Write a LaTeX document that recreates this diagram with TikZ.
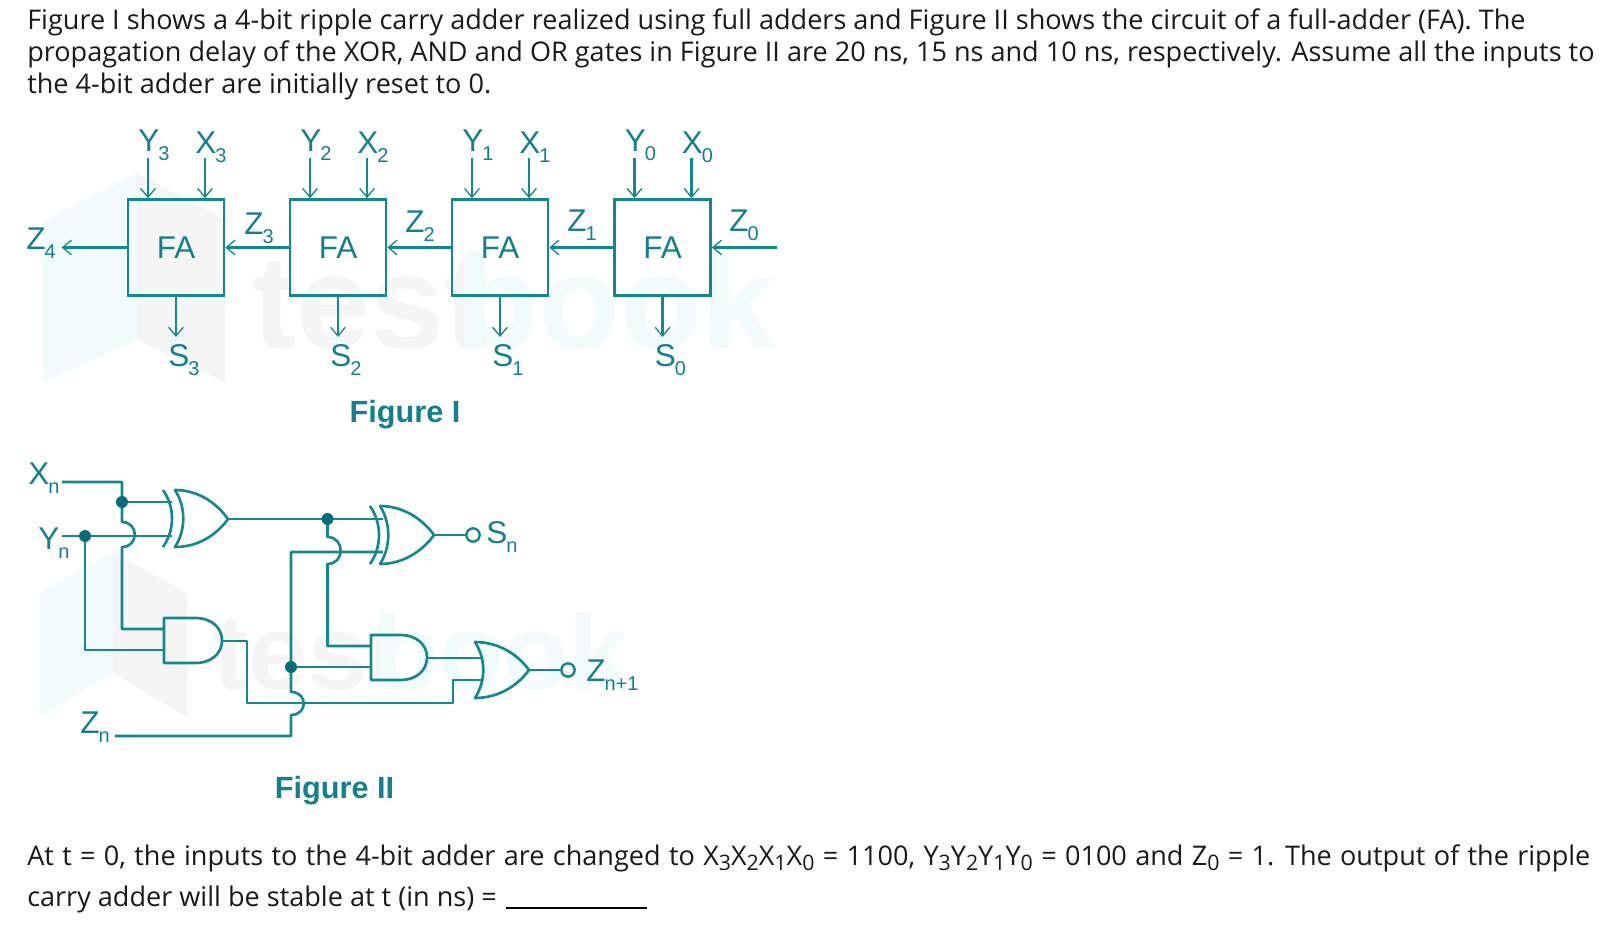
\documentclass[tikz,border=0pt]{standalone}
\usepackage{fontspec}
\usetikzlibrary{arrows.meta}
\setmainfont{Open Sans}
\newfontfamily\lblfont{Liberation Sans}
\definecolor{wire}{HTML}{14878F}
\definecolor{dotc}{HTML}{0A6C78}
\definecolor{lbl}{HTML}{157F8C}
\definecolor{body}{HTML}{1A1A1A}
\definecolor{wmg}{HTML}{F5F5F5}
\definecolor{wmt}{HTML}{F1FBFB}
\newcommand\lab[2]{{\lblfont\fontsize{23.6}{24}\selectfont #1\kern-.03em\raisebox{-.3em}{\fontsize{15}{16}\selectfont #2}}}
\newcommand\bsub[1]{\raisebox{-.2em}{\fontsize{16}{17}\selectfont #1}}
\newcommand\tline[3]{\node[txt] (#1) at (27,#2) {#3};}
\tikzset{
  x=.75pt,y=-.75pt,
  w/.style={draw=wire,line width=2pt,line join=round},
  arr/.style={draw=wire,line width=1.8pt,-{Straight Barb[length=6.5pt,width=11pt,line width=1pt]}},
  fa/.style={draw=wire,line width=2pt,minimum width=72pt,minimum height=72pt,inner sep=0pt,text=lbl,font=\lblfont\fontsize{23.6}{24}\selectfont},
  lb/.style={text=lbl,inner sep=0pt},
  txt/.style={anchor=base west,inner sep=0pt,text=body,font=\fontsize{20.3}{22}\selectfont},
  figt/.style={text=lbl,inner sep=0pt,font=\lblfont\bfseries\fontsize{23}{25}\selectfont},
  jdot/.style={circle,fill=dotc,draw=none,minimum size=9pt,inner sep=0pt},
  odot/.style={circle,draw=wire,line width=1.8pt,fill=white,minimum size=10pt,inner sep=0pt},
  wm/.style={anchor=base west,inner sep=0pt,font=\lblfont\bfseries},
}
\begin{document}
\begin{tikzpicture}
\useasboundingbox (0,0) rectangle (1600,928);
\fill[white] (0,0) rectangle (1600,928);
% watermarks
\fill[wmt] (43,382) -- (43,222) -- (137,173) -- (137,340) -- cycle;
\fill[wmg] (137,173) -- (225,220) -- (225,382) -- (137,340) -- cycle;
\node[wm,text=wmg,font=\lblfont\bfseries\fontsize{100}{100}\selectfont] (wm1) at (252,348) {test};
\node[wm,text=wmt,font=\lblfont\bfseries\fontsize{100}{100}\selectfont] (wm2) at (457,348) {book};
\fill[wmt] (40,717) -- (40,593) -- (113,552) -- (113,673) -- cycle;
\fill[wmg] (113,552) -- (187,593) -- (187,717) -- (113,673) -- cycle;
\node[wm,text=wmg,font=\lblfont\bfseries\fontsize{80}{80}\selectfont] (wm3) at (213,689) {test};
\node[wm,text=wmt,font=\lblfont\bfseries\fontsize{80}{80}\selectfont] (wm4) at (373,689) {book};
% text
\tline{t1}{29}{Figure I shows a 4-bit ripple carry adder realized using full adders and Figure II shows the circuit of a full-adder (FA). The}
\tline{t2}{61}{propagation delay of the XOR, AND and OR gates in Figure II are 20 ns, 15 ns and 10 ns, respectively. Assume all the inputs to}
\tline{t3}{93}{the 4-bit adder are initially reset to 0.}
\tline{t4}{865}{\spaceskip=6.25pt At t = 0, the inputs to the 4-bit adder are changed to X\bsub{3}X\bsub{2}X\bsub{1}X\bsub{0} = 1100, Y\bsub{3}Y\bsub{2}Y\bsub{1}Y\bsub{0} = 0100 and Z\bsub{0} = 1. The output of the ripple}
\tline{t5}{906}{carry adder will be stable at t (in ns) =}
\coordinate (ua) at (506,908); \coordinate (ub) at (647,908);
\draw[black,line width=.9pt] (ua) -- (ub);
% Figure I
\foreach \i/\bx in {3/176,2/338,1/500,0/662.5}{
  \node[fa] (fa\i) at (\bx,247.5) {FA};
  \coordinate (y\i) at ({\bx-28},158);
  \coordinate (x\i) at ({\bx+29},158);
  \coordinate (s\i) at (\bx,337);
  \draw[arr] (y\i) -- (y\i |- fa\i.north);
  \draw[arr] (x\i) -- (x\i |- fa\i.north);
  \draw[arr] (fa\i.south -| s\i) -- (s\i);
  \node[lb] (ly\i) at ({\bx-22},145) {\lab{Y}{\i}};
  \node[lb] (lx\i) at ({\bx+35},147) {\lab{X}{\i}};
  \node[lb] (ls\i) at ({\bx+8},360) {\lab{S}{\i}};
}
\draw[arr,line width=2.2pt] (fa3.west) -- ++(-65,0) coordinate (z4end);
\draw[arr,line width=2.2pt] (fa2.west) -- (fa3.east);
\draw[arr,line width=2.2pt] (fa1.west) -- (fa2.east);
\draw[arr,line width=2.2pt] (fa0.west) -- (fa1.east);
\coordinate (z0in) at (777,247.5);
\draw[arr,line width=2.2pt] (z0in) -- (fa0.east);
\node[lb] (lz4) at (41,243) {\lab{Z}{4}};
\node[lb] (lz3) at (259,228) {\lab{Z}{3}};
\node[lb] (lz2) at (420,226) {\lab{Z}{2}};
\node[lb] (lz1) at (582,225) {\lab{Z}{1}};
\node[lb] (lz0) at (744,225) {\lab{Z}{0}};
\node[figt] (f1) at (405,415) {Figure I};
\node[figt] (f2) at (334.5,791) {Figure II};
% Figure II gates
\draw[w] (175,490) .. controls (200,490) and (218,505) .. (228,519) .. controls (218,533) and (200,547) .. (175,547) .. controls (186,530) and (186,507) .. (175,490) -- cycle;
\draw[w] (163,490) .. controls (175,507) and (175,530) .. (163,547);
\draw[w] (380,506) .. controls (405,506) and (424,521) .. (434,535) .. controls (424,549) and (405,564) .. (380,564) .. controls (391,547) and (391,523) .. (380,506) -- cycle;
\draw[w] (370,506) .. controls (382,523) and (382,547) .. (370,564);
\draw[w] (164,618) -- (195,618) .. controls (212,618) and (222,628) .. (222,640.5) .. controls (222,653) and (212,663) .. (195,663) -- (164,663) -- cycle;
\draw[w] (371,635) -- (400,635) .. controls (417,635) and (427,645) .. (427,657.5) .. controls (427,670) and (417,680) .. (400,680) -- (371,680) -- cycle;
\draw[w] (475,642) .. controls (500,642) and (519,656) .. (529,670) .. controls (519,684) and (500,698) .. (475,698) .. controls (486,681) and (486,659) .. (475,642) -- cycle;
% pins and dots
\coordinate (xs) at (62,482); \coordinate (ys) at (62,536); \coordinate (zs) at (115,736);
\coordinate (xor1o) at (228,519); \coordinate (xor2o) at (434,535); \coordinate (oro) at (529,670);
\node[odot] (os) at (473,535) {};
\node[odot] (oz) at (568,670) {};
% wires
\draw[w] (xs) -- (122,482) -- (122,522) .. controls (139,522) and (139,547) .. (122,547) -- (122,629) -- (164,629);
\draw[w] (122,502) -- (172,502);
\draw[w] (ys) -- (172,536);
\draw[w] (85,536) -- (85,650) -- (164,650);
\draw[w] (xor1o) -- (383,519);
\draw[w] (327.5,519) -- (327.5,537) .. controls (345,537) and (345,564) .. (327.5,564) -- (327.5,646) -- (371,646);
\draw[w] (zs) -- (291,736) -- (291,715) .. controls (308,715) and (308,692) .. (291,692) -- (291,552) -- (383,552);
\draw[w] (291,667) -- (371,667);
\draw[w] (222,641) -- (247,641) -- (247,703) -- (453,703) -- (453,680) -- (482,680);
\draw[w] (427,658) -- (481,658);
\draw[w] (xor2o) -- (os);
\draw[w] (oro) -- (oz);
\node[jdot] (dx) at (122,502) {};
\node[jdot] (dy) at (85,536) {};
\node[jdot] (ds) at (327.5,519) {};
\node[jdot] (dz) at (291,667) {};
\node[lb] (lxn) at (44,478) {\lab{X}{n}};
\node[lb] (lyn) at (54,543) {\lab{Y}{n}};
\node[lb] (lzn) at (95,727) {\lab{Z}{n}};
\node[lb,anchor=west] (lsn) at (486,537) {\lab{S}{n}};
\node[lb,anchor=west] (lznn) at (586,675) {\lab{Z}{n+1}};
\end{tikzpicture}
\end{document}
